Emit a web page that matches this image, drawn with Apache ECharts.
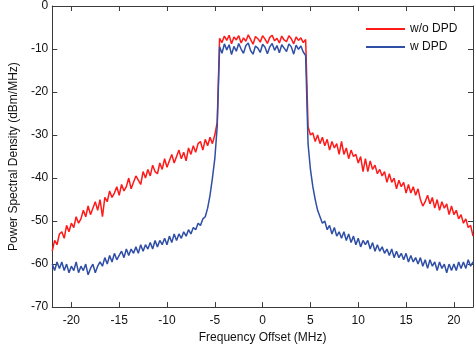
<!DOCTYPE html>
<html>
<head>
<meta charset="utf-8">
<script src="https://cdn.jsdelivr.net/npm/echarts@6/dist/echarts.min.js"></script>
<style>
html,body{margin:0;padding:0;background:#fff;}
#chart{width:474px;height:349px;}
</style>
</head>
<body>
<div id="chart"></div>
<script>
// Sampling grid: -22 MHz to 22 MHz in 0.25 MHz steps (177 samples)
const F_START = -22;
const F_STEP = 0.25;

const xTicks = [-20, -15, -10, -5, 0, 5, 10, 15, 20];
const yTicks = [0, -10, -20, -30, -40, -50, -60, -70];
const legendNames = ['w/o DPD', 'w DPD'];

// w/o DPD (red)
const redLeft = [
  -57,-54.5,-55.5,-53,-52.5,-54,-51,-52.5,-50.5,-51.5,
  -49,-50.5,-49.5,-47.5,-49,-46.5,-48.5,-47,-45.5,-47.5,
  -45,-49,-44.5,-45.5,-43,-44.5,-43.5,-42,-44,-41.5,
  -43,-42,-40,-42.5,-41,-39.5,-40.5,-41.5,-38.5,-40,
  -38,-39.5,-37,-38.5,-39,-36.5,-38,-35.5,-37.5,-36,
  -34.5,-36.5,-35,-33.5,-35.5,-34,-36,-33,-34.5,-32.5,
  -34,-32,-31.5,-33.5,-31,-32.5,-30.5,-32,-30,-27
];
const redInBand = [
  -7.5,-8.5,-7,-8,-6.8,-8.8,-7.2,-7.9,-6.9,-8.6,
  -7.4,-8.2,-6.7,-7.8,-8.9,-7.1,-7.6,-8.4,-6.9,-7.7,
  -8.7,-7.3,-6.8,-8.1,-7.5,-8.6,-7,-7.9,-8.3,-6.9,
  -7.6,-8.8,-7.2,-8,-7.4,-8.5,-7.8
];
const redRight = [
  -28,-30,-29.5,-31.5,-30,-32,-30.5,-32.5,-31,-33.5,
  -31.5,-33,-32,-34.5,-31.5,-34.5,-33,-35.5,-33.5,-35,
  -34.5,-36.5,-35,-38.5,-35.5,-38.5,-36,-38,-37,-39,
  -38,-39.5,-38.5,-41,-39,-41,-40,-42.5,-40.5,-42,
  -41,-43.5,-41.5,-43.5,-42,-44,-42.5,-45,-46.5,-45.5,
  -44,-46,-44.5,-47,-45,-47.5,-45.5,-47,-46,-48.5,
  -46.5,-48.5,-47.5,-49.5,-48.5,-50.5,-49.5,-51.5,-51,-53.5
];

// w DPD (blue)
const blueLeft = [
  -60,-61.5,-59.5,-61,-59.5,-61.5,-60,-62,-60.5,-61.5,
  -59.5,-62,-60.5,-61.5,-60,-62.5,-61,-60,-62,-60.5,
  -59.5,-60.5,-58.5,-60,-58,-59.5,-57.5,-59,-58,-57,
  -58.5,-56.5,-58,-56.5,-57.5,-56,-57.5,-55.5,-57,-55.5,
  -56.5,-55,-56.5,-54.5,-56,-54.5,-55.5,-54,-55.5,-53.5,
  -55,-53,-54.5,-53,-54,-52.5,-53.5,-52,-53,-51.5,
  -52,-50.5,-51,-49.5,-49,-47,-44,-40,-35.5,-28
];
const blueInBand = [
  -9.5,-11,-8.8,-10.2,-9,-11.3,-9.4,-10.5,-8.7,-10,
  -11,-9.2,-8.6,-10.4,-11.2,-9.3,-9.8,-10.8,-8.9,-9.6,
  -11.1,-9.5,-8.7,-10.3,-9.2,-10.9,-9,-9.8,-10.6,-8.8,
  -9.5,-11.2,-9.1,-10.1,-9.3,-10.7,-11.5
];
const blueRight = [
  -32,-38,-42,-45,-47.5,-49,-50.5,-50,-52,-51,
  -53,-51.5,-53.5,-52.5,-54,-52.5,-54.5,-53,-55,-53.5,
  -55.5,-54,-56,-54.5,-55.5,-54.5,-56.5,-55,-57,-55.5,
  -57,-56,-57.5,-56.5,-58,-56.5,-58.5,-57,-58.5,-57.5,
  -59,-57.5,-59.5,-58,-59.5,-58.5,-60,-58.5,-60.5,-59,
  -61,-59,-60.5,-59.5,-61.5,-59.5,-61,-60,-62,-60,
  -61.5,-60,-61.5,-59.5,-61,-59.5,-61,-59,-60.5,-59.5
];

const redVals = redLeft.concat(redInBand, redRight);
const blueVals = blueLeft.concat(blueInBand, blueRight);
const toPairs = vals => vals.map((v, i) => [F_START + i * F_STEP, v]);

const FONT = 'Liberation Sans, Arial, Helvetica, sans-serif';
const AX = '#3a3a3a';

const chart = echarts.init(document.getElementById('chart'), null, {renderer: 'canvas'});
chart.setOption({
  animation: false,
  backgroundColor: '#fff',
  textStyle: {fontFamily: FONT},
  grid: {left: 46, right: 1, top: 5, bottom: 37, containLabel: false},
  legend: {
    orient: 'vertical',
    left: 361,
    top: 18,
    itemGap: 6,
    itemWidth: 39,
    itemHeight: 2,
    icon: 'rect',
    data: legendNames,
    textStyle: {fontSize: 12, color: '#111', fontFamily: FONT}
  },
  xAxis: [{
    type: 'value', min: -22, max: 22, position: 'bottom',
    axisLine: {show: true, onZero: false, lineStyle: {color: AX, width: 1}},
    axisTick: {show: true, inside: true, length: 5, customValues: xTicks, lineStyle: {color: AX}},
    axisLabel: {show: true, customValues: xTicks, margin: 8, fontSize: 12, color: '#111', fontFamily: FONT},
    splitLine: {show: false},
    name: 'Frequency Offset (MHz)', nameLocation: 'middle', nameGap: 21,
    nameTextStyle: {fontSize: 12, color: '#111', fontFamily: FONT}
  }, {
    type: 'value', min: -22, max: 22, position: 'top',
    axisLine: {show: true, onZero: false, lineStyle: {color: AX, width: 1}},
    axisTick: {show: true, inside: true, length: 5, customValues: xTicks, lineStyle: {color: AX}},
    axisLabel: {show: false},
    splitLine: {show: false}
  }],
  yAxis: [{
    type: 'value', min: -70, max: 0, interval: 10, position: 'left',
    axisLine: {show: true, onZero: false, lineStyle: {color: AX, width: 1}},
    axisTick: {show: true, inside: true, length: 5, lineStyle: {color: AX}},
    axisLabel: {show: true, margin: 4, fontSize: 12, color: '#111', fontFamily: FONT},
    splitLine: {show: false},
    name: 'Power Spectral Density (dBm/MHz)', nameLocation: 'middle', nameGap: 32,
    nameTextStyle: {fontSize: 12, color: '#111', fontFamily: FONT}
  }, {
    type: 'value', min: -70, max: 0, interval: 10, position: 'right',
    axisLine: {show: true, onZero: false, lineStyle: {color: AX, width: 1}},
    axisTick: {show: true, inside: true, length: 5, lineStyle: {color: AX}},
    axisLabel: {show: false},
    splitLine: {show: false}
  }],
  series: [{
    name: legendNames[0], type: 'line', data: toPairs(redVals),
    xAxisIndex: 0, yAxisIndex: 0,
    showSymbol: false, symbol: 'none', sampling: null,
    color: '#ff1a1a',
    lineStyle: {color: '#ff1a1a', width: 1.5}
  }, {
    name: legendNames[1], type: 'line', data: toPairs(blueVals),
    xAxisIndex: 0, yAxisIndex: 0,
    showSymbol: false, symbol: 'none', sampling: null,
    color: '#2f4ea6',
    lineStyle: {color: '#2f4ea6', width: 1.5}
  }]
});
</script>
</body>
</html>
